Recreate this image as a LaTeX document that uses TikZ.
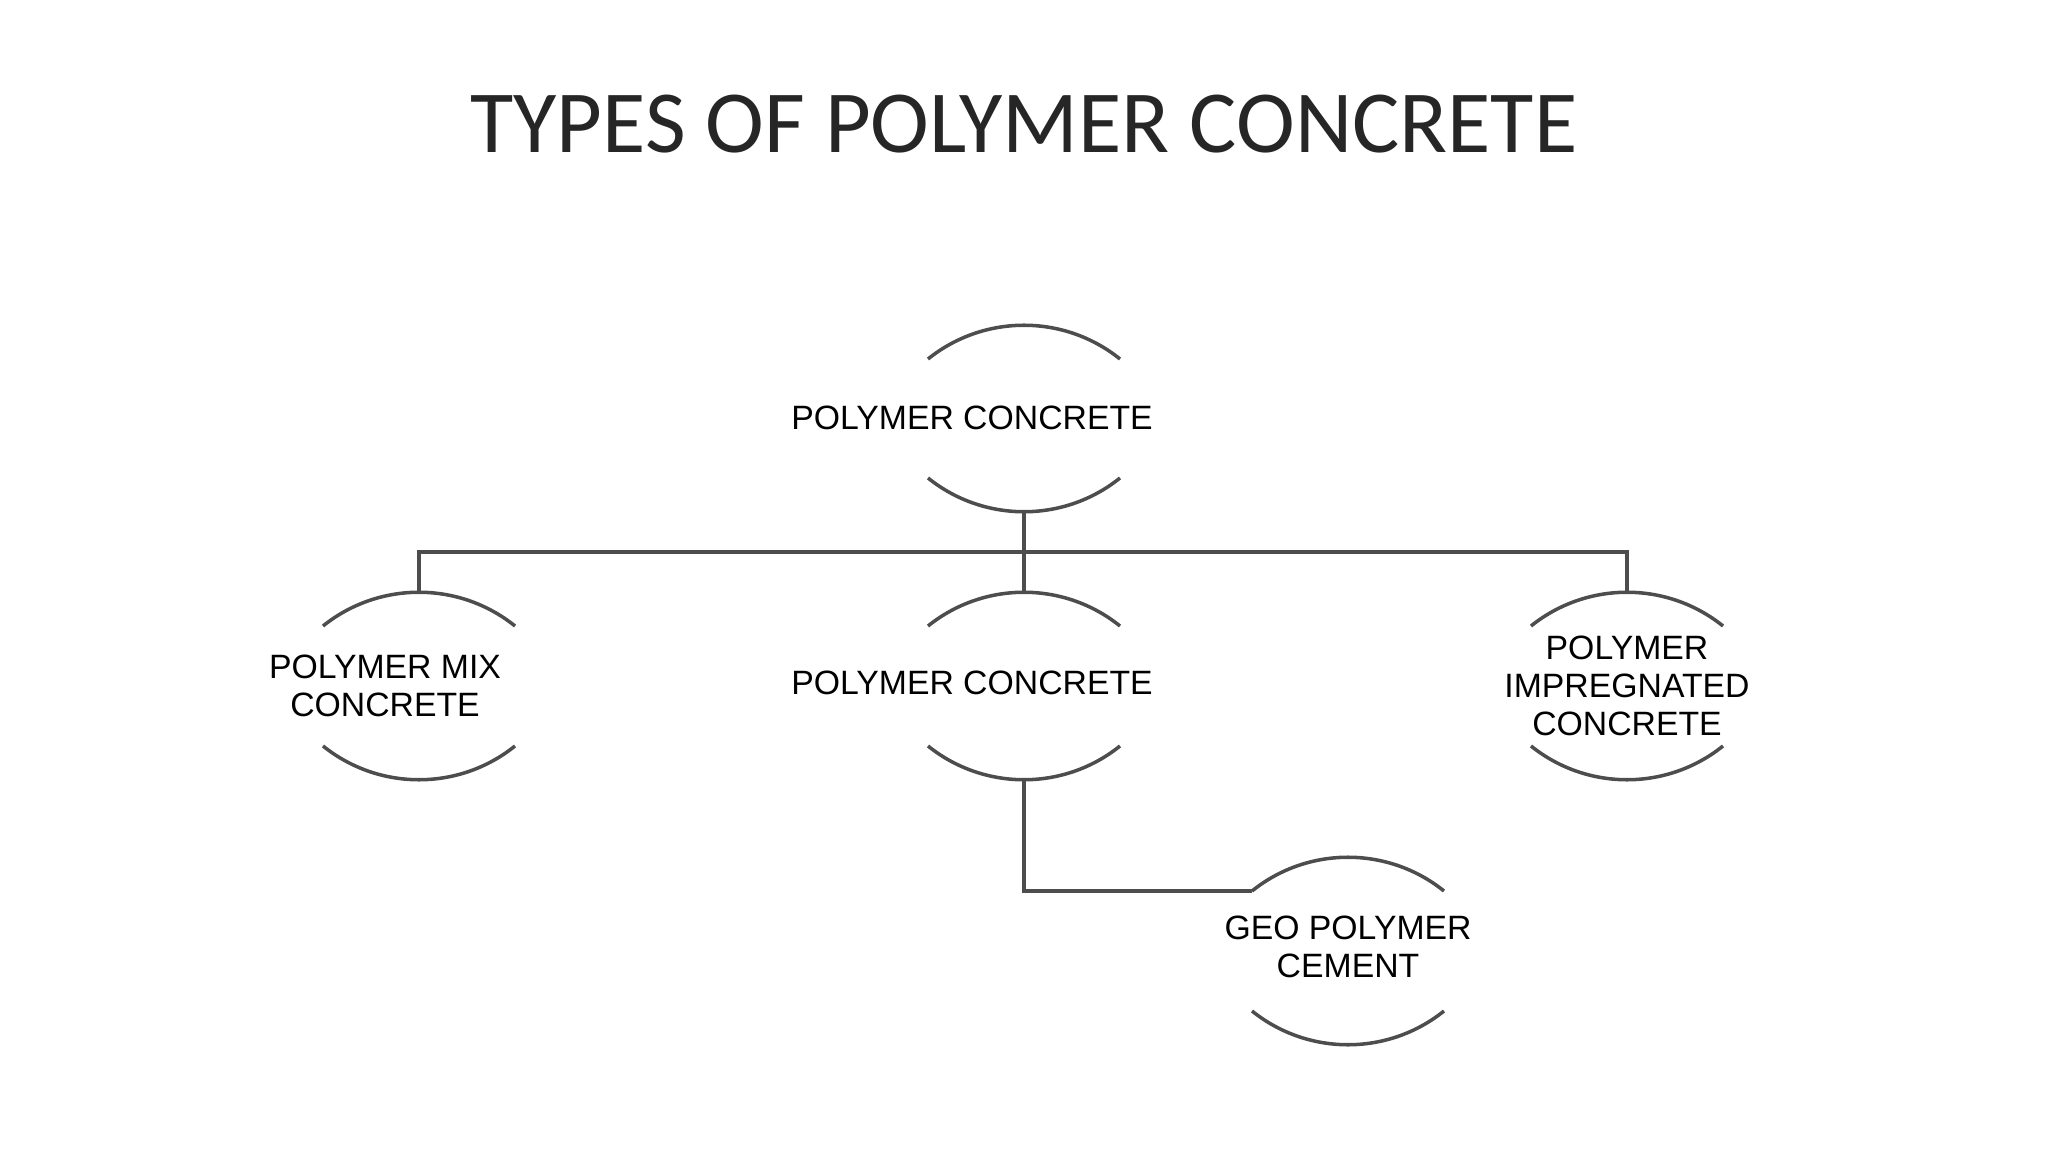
\documentclass[tikz,border=0pt]{standalone}
\usepackage{fontspec}
\setmainfont{Liberation Sans}
\newfontfamily\titlefont{Carlito}
\definecolor{ln}{HTML}{4D4D4D}
\tikzset{lbl/.style={font=\fontsize{9.6}{10.8}\selectfont, align=center, text=black},
  arcl/.style={draw=ln, line width=1pt}}
\newcommand\ovl[4]{%
  \coordinate (#1-t) at (#2,#3);
  \coordinate (#1-b) at (#2,#4);
  \coordinate (#1-tl) at (#2-96,#3+34);
  \draw[arcl] (#2-96,#3+34) .. controls (#2-40,#3-11) and (#2+40,#3-11) .. (#2+96,#3+34);
  \draw[arcl] (#2-96,#4-34) .. controls (#2-40,#4+11) and (#2+40,#4+11) .. (#2+96,#4-34);
}
\begin{document}
\begin{tikzpicture}[x=0.01cm,y=-0.01cm]
\useasboundingbox (0,0) rectangle (2048,1152);
\node[font=\titlefont\fontsize{25.2}{30}\selectfont, text=black!85] (title) at (1024,124) {TYPES OF POLYMER CONCRETE};
\ovl{top}{1024}{325}{512}
\ovl{left}{419}{592}{780}
\ovl{mid}{1024}{592}{780}
\ovl{right}{1627}{592}{780}
\ovl{geo}{1348}{857}{1045}
\node[lbl] (ttop) at (972,418) {POLYMER CONCRETE};
\node[lbl] (tleft) at (385,686) {POLYMER MIX\\CONCRETE};
\node[lbl] (tmid) at (972,683) {POLYMER CONCRETE};
\node[lbl] (tright) at (1627,686) {POLYMER\\IMPREGNATED\\CONCRETE};
\node[lbl] (tgeo) at (1348,947) {GEO POLYMER\\CEMENT};
\coordinate (bar) at (0,552);
\draw[arcl] (top-b) -- (mid-t);
\draw[arcl] (left-t) -- (left-t |- bar) -- (right-t |- bar) -- (right-t);
\draw[arcl] (mid-b) |- (geo-tl);
\end{tikzpicture}
\end{document}
